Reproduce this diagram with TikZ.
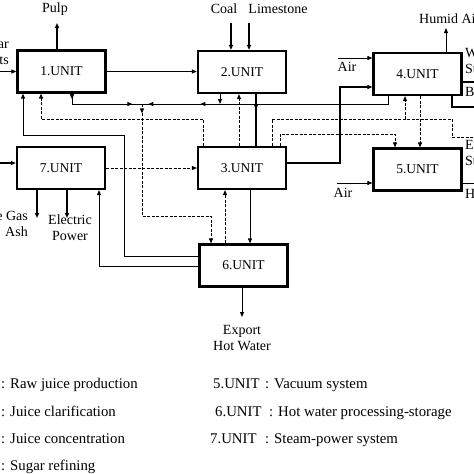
\documentclass[tikz,border=0pt]{standalone}
\usepackage{fontspec}
\setmainfont{Liberation Serif}
\usetikzlibrary{arrows.meta,decorations.markings}

\begin{document}
\begin{tikzpicture}[x=1pt, y=-1pt,
    % Стиль для блоков: прямоугольник с толстой рамкой
    unit/.style={rectangle, draw, line width=2.2pt, minimum width=88pt, minimum height=42pt, inner sep=0pt, font=\fontsize{13.5}{15}\selectfont},
    % Подписи потоков
    lbl/.style={inner sep=0pt, align=center, font=\fontsize{14}{16}\selectfont},
    % Подписи легенды
    leg/.style={inner sep=0pt, font=\fontsize{14.8}{16}\selectfont},
    % Линии: тонкая, толстая, пунктир
    wire/.style={line width=0.9pt},
    pipe/.style={line width=1.8pt},
    vap/.style={line width=0.9pt, dash pattern=on 3pt off 1.5pt},
    % Стрелка в конце и посреди пути
    tipend/.style={-{Triangle[length=5pt,width=4pt]}},
    tip/.style={postaction={decorate, decoration={markings, mark=at position #1 with {\arrow{Triangle[length=5pt,width=4pt]}}}}}
]
    \useasboundingbox (0,0) rectangle (474,474);

    % --- Блоки ---
    \node[unit] (b1) at (61.5,71.5) {1.UNIT};
    \node[unit] (b2) at (242,72) {2.UNIT};
    \node[unit] (b4) at (417.5,74) {4.UNIT};
    \node[unit] (b7) at (61,168) {7.UNIT};
    \node[unit] (b3) at (242,168) {3.UNIT};
    \node[unit] (b5) at (417.5,169.5) {5.UNIT};
    \node[unit] (b6) at (243.5,265.5) {6.UNIT};

    % --- Точки входа и выхода ---
    \coordinate (beets) at (-2,71.5);
    \coordinate (pulpo) at (57,23);
    \coordinate (coali) at (231,23);
    \coordinate (limei) at (249,23);
    \coordinate (air4i) at (338,58);
    \coordinate (humo) at (446,28);
    \coordinate (wso) at (480,82);
    \coordinate (bso) at (480,107);
    \coordinate (air5i) at (337,183);
    \coordinate (b5o) at (480,183);
    \coordinate (exs) at (480,137);
    \coordinate (wi) at (-2,163);
    \coordinate (fgo) at (37,218);
    \coordinate (epo) at (67,218);
    \coordinate (hwo) at (242,317);
    \coordinate (j) at (142,104);
    \coordinate (c2) at (220,104);
    \coordinate (s4) at (405,119);

    % --- Подписи потоков ---
    \node[lbl, anchor=east, align=right] (beetsl) at (9,52) {Sugar\\Beets};
    \node[lbl] (pulp) at (55,9) {Pulp};
    \node[lbl] (coal) at (224,9) {Coal};
    \node[lbl] (lime) at (278,9) {Limestone};
    \node[lbl] (air4) at (347,67) {Air};
    \node[lbl, anchor=west] (hum) at (419,19) {Humid Air};
    \node[lbl, anchor=north west, align=left] (ws) at (465,48) {White\\Sugar};
    \node[lbl, anchor=west] (bs) at (465,93) {Brown Sugar};
    \node[lbl] (air5) at (343,193) {Air};
    \node[lbl, anchor=north west, align=left] (es) at (465,140) {Excess\\Steam};
    \node[lbl, anchor=west] (hw5) at (465,194) {Hot Water};
    \node[lbl, anchor=north east, align=right] (fg) at (28,211) {Flue Gas\\Ash};
    \node[lbl, anchor=north] (ep) at (70,215) {Electric\\Power};
    \node[lbl] (hw) at (242,338) {Export\\Hot Water};

    % --- Толстые линии (основной поток) ---
    \draw[pipe, tipend] (beets) -- (b1.west);
    \draw[pipe, tipend] (b1.north -| pulpo) -- (pulpo);
    \draw[pipe, tipend] (b1.east) -- (b1.east -| b2.west);
    \draw[pipe, tipend] (coali) -- (b2.north -| coali);
    \draw[pipe, tipend] (limei) -- (b2.north -| limei);
    \draw[pipe, tipend] (b3.east |- 0,163) -- (340,163) -- (340,87) -- (b4.west |- 0,87);
    \draw[pipe] (b4.east |- wso) -- (wso);
    \draw[pipe] (b4.south -| 452,0) -- (452,107) -- (bso);
    \draw[pipe, tipend] (wi) -- (b7.west |- wi);
    \draw[pipe, tipend] (b7.south -| fgo) -- (fgo);
    \draw[pipe, tipend] (b7.south -| epo) -- (epo);

    % --- Тонкие линии ---
    \draw[wire, tipend] (air4i) -- (b4.west |- air4i);
    \draw[wire, tipend] (b4.north -| humo) -- (humo);
    \draw[wire, tipend] (air5i) -- (b5.west |- air5i);
    \draw[wire] (b5.east |- b5o) -- (b5o);
    \draw[line width=1.2pt, tip=0.3] (b2.south -| 256,0) -- (b3.north -| 256,0);
    \draw[wire, tipend] (b2.south -| c2) -- (c2);
    \draw[wire, tip=0.07, tip=0.88] (b1.south -| 72,0) -- (72,104) -- (j);
    \draw[wire, tip=0.77, tip=0.975] (b4.south -| 388,0) -- (388,104) -- (j);
    \draw[wire, tipend] (b6.west |- 0,256) -- (124,256) -- (124,135) -- (23,135) -- (b1.south -| 23,0);
    \draw[wire, tipend] (b6.west |- 0,266) -- (99,266) -- (b7.south -| 99,0);
    \draw[wire, tipend] (b3.south -| 250,0) -- (b6.north -| 250,0);
    \draw[wire, tipend] (b6.south -| hwo) -- (hwo);

    % --- Пунктир (пар и конденсат) ---
    \draw[vap, tipend, tip=0.045] (j) -- (142,216) -- (211,216) -- (b6.north -| 211,0);
    \draw[vap, tipend] (b3.north -| 239,0) -- (b2.south -| 239,0);
    \draw[vap, tipend] (b3.north -| 203,0) -- (203,119) -- (41,119) -- (b1.south -| 41,0);
    \draw[vap] (b3.north -| 272,0) -- (272,119) -- (452,119) -- (452,137) -- (exs);
    \draw[vap, tipend] (s4) -- (b4.south -| s4);
    \draw[vap, tipend] (b3.north -| 280,0) -- (280,134) -- (395,134) -- (b5.north -| 395,0);
    \draw[vap, tipend] (b4.south -| 420,0) -- (b5.north -| 420,0);
    \draw[vap, tipend] (b7.east) -- (b3.west);
    \draw[vap, tipend] (b6.north -| 225,0) -- (b3.south -| 225,0);

    % --- Легенда ---
    \node[leg, anchor=base east] (n1) at (-4,388) {1.UNIT};
    \node[leg, anchor=base west] (d1) at (1,388) {: Raw juice production};
    \node[leg, anchor=base east] (n2) at (-4,416) {2.UNIT};
    \node[leg, anchor=base west] (d2) at (1,416) {: Juice clarification};
    \node[leg, anchor=base east] (n3) at (-4,443) {3.UNIT};
    \node[leg, anchor=base west] (d3) at (1,443) {: Juice concentration};
    \node[leg, anchor=base east] (n4) at (-4,470) {4.UNIT};
    \node[leg, anchor=base west] (d4) at (1,470) {: Sugar refining};
    \node[leg, anchor=base west] (n5) at (213,388) {5.UNIT};
    \node[leg, anchor=base west] (d5) at (265,388) {: Vacuum system};
    \node[leg, anchor=base west] (n6) at (215,416) {6.UNIT};
    \node[leg, anchor=base west] (d6) at (269,416) {: Hot water processing-storage};
    \node[leg, anchor=base west] (n7) at (210,443) {7.UNIT};
    \node[leg, anchor=base west] (d7) at (265,443) {: Steam-power system};

\end{tikzpicture}
\end{document}
